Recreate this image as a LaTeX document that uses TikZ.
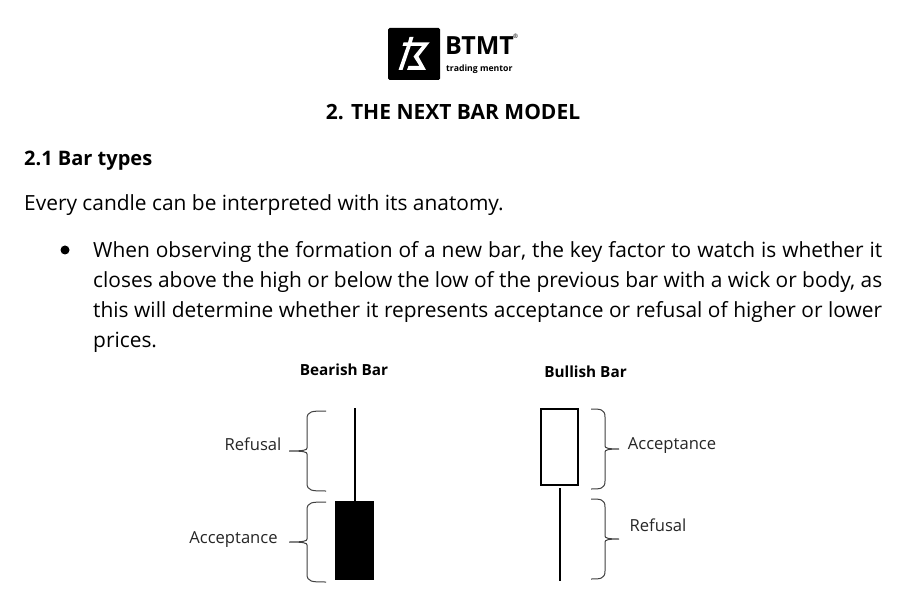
\documentclass[tikz,border=0pt]{standalone}
\usepackage{fontspec}
\setmainfont{Open Sans}
\newcommand{\bracel}[5]{% tip x, bend x, end x, top y, bottom y ; mid computed
  \pgfmathsetmacro{\mymid}{(#4+#5)/2}
  \draw[bracestyle] (#3,#4) .. controls (#2+5,#4) and (#2,#4) .. (#2,#4+8) -- (#2,\mymid-3) .. controls (#2,\mymid-1) and (#2-3,\mymid) .. (#1,\mymid) .. controls (#2-3,\mymid) and (#2,\mymid+1) .. (#2,\mymid+3) -- (#2,#5-8) .. controls (#2,#5) and (#2+5,#5) .. (#3,#5);
}
\newcommand{\bracer}[5]{%
  \pgfmathsetmacro{\mymid}{(#4+#5)/2}
  \draw[bracestyle] (#3,#4) .. controls (#2-5,#4) and (#2,#4) .. (#2,#4+8) -- (#2,\mymid-3) .. controls (#2,\mymid-1) and (#2+3,\mymid) .. (#1,\mymid) .. controls (#2+3,\mymid) and (#2,\mymid+1) .. (#2,\mymid+3) -- (#2,#5-8) .. controls (#2,#5) and (#2-5,#5) .. (#3,#5);
}
\tikzset{
  bracestyle/.style={draw=black!75,line width=1pt},
  wick/.style={draw=black,line width=2pt},
  body/.style={font=\fontsize{20.9}{30}\selectfont,inner sep=0pt,anchor=base west},
  lab/.style={font=\fontsize{16.6}{18}\selectfont,inner sep=0pt,text=black!85},
  bartitle/.style={font=\fontsize{15.3}{18}\selectfont\bfseries,inner sep=0pt}
}
\begin{document}
\begin{tikzpicture}[x=1pt,y=-1pt]
\useasboundingbox (0,0) rectangle (912,593);
\fill[white] (0,0) rectangle (912,593);
% logo
\fill[black,rounded corners=1.5pt] (388,28) rectangle (440,80);
\fill[white] (409.5,37) -- (413.5,37) -- (411.8,42.5) -- (429.5,42.5) -- (418.5,56.5) -- (426,70) -- (407,70) -- (408.5,66) -- (419.5,66) -- (413.5,56.5) -- (422,46) -- (410.7,46) -- (402.5,70) -- (398.5,70) -- (406.8,46) -- (402.5,46) -- (403.5,42.5) -- (408,42.5) -- cycle;
\node[inner sep=0pt,anchor=base west,font=\fontsize{25}{25}\selectfont\bfseries] (brand) at (445,55) {BTMT};
\node[inner sep=0pt,font=\fontsize{6}{6}\selectfont] (reg) at (515.5,36) {®};
\node[inner sep=0pt,anchor=base west,font=\fontsize{8.7}{10}\selectfont\bfseries] (tag) at (446,71.5) {trading mentor};
% headings
\node[inner sep=0pt,anchor=base,font=\fontsize{21}{24}\selectfont\bfseries] (title) at (453,120) {2. THE NEXT BAR MODEL};
\node[body,font=\fontsize{20}{24}\selectfont\bfseries] (sec) at (24,166) {2.1 Bar types};
\node[body] (intro) at (24,211) {Every candle can be interpreted with its anatomy.};
\fill[black] (65,250) circle (4.5);
\node[body,anchor=north west,text width=789pt,align=justify] (para) at (93,241) {When observing the formation of a new bar, the key factor to watch is whether it\linebreak closes above the high or below the low of the previous bar with a wick or body, as\linebreak this will determine whether it represents acceptance or refusal of higher or lower\linebreak prices.};
% titles
\node[bartitle] (bear) at (344,370) {Bearish Bar};
\node[bartitle] (bull) at (585.5,372) {Bullish Bar};
% bearish
\coordinate (wt) at (355,408);
\node[fill=black,minimum width=39pt,minimum height=79pt,inner sep=0pt,anchor=north west] (bb) at (335,501) {};
\draw[wick] (wt) -- (bb.north -| wt);
% bullish
\node[draw=black,line width=2pt,minimum width=37pt,minimum height=76pt,inner sep=0pt,anchor=north west] (wb) at (540,408) {};
\coordinate (ub) at (560,581);
\draw[wick] (560,488) -- (ub);
% braces
\bracel{289}{307}{326}{411}{491}
\bracel{289}{307}{326}{502}{582}
\bracer{619}{605}{591}{409}{489}
\bracer{619}{605}{591}{499}{579}
% labels
\node[lab] (r1) at (253,444.5) {Refusal};
\node[lab] (a1) at (233.5,540) {Acceptance};
\node[lab] (a2) at (672,446) {Acceptance};
\node[lab] (r2) at (658,525.5) {Refusal};
\end{tikzpicture}
\end{document}
